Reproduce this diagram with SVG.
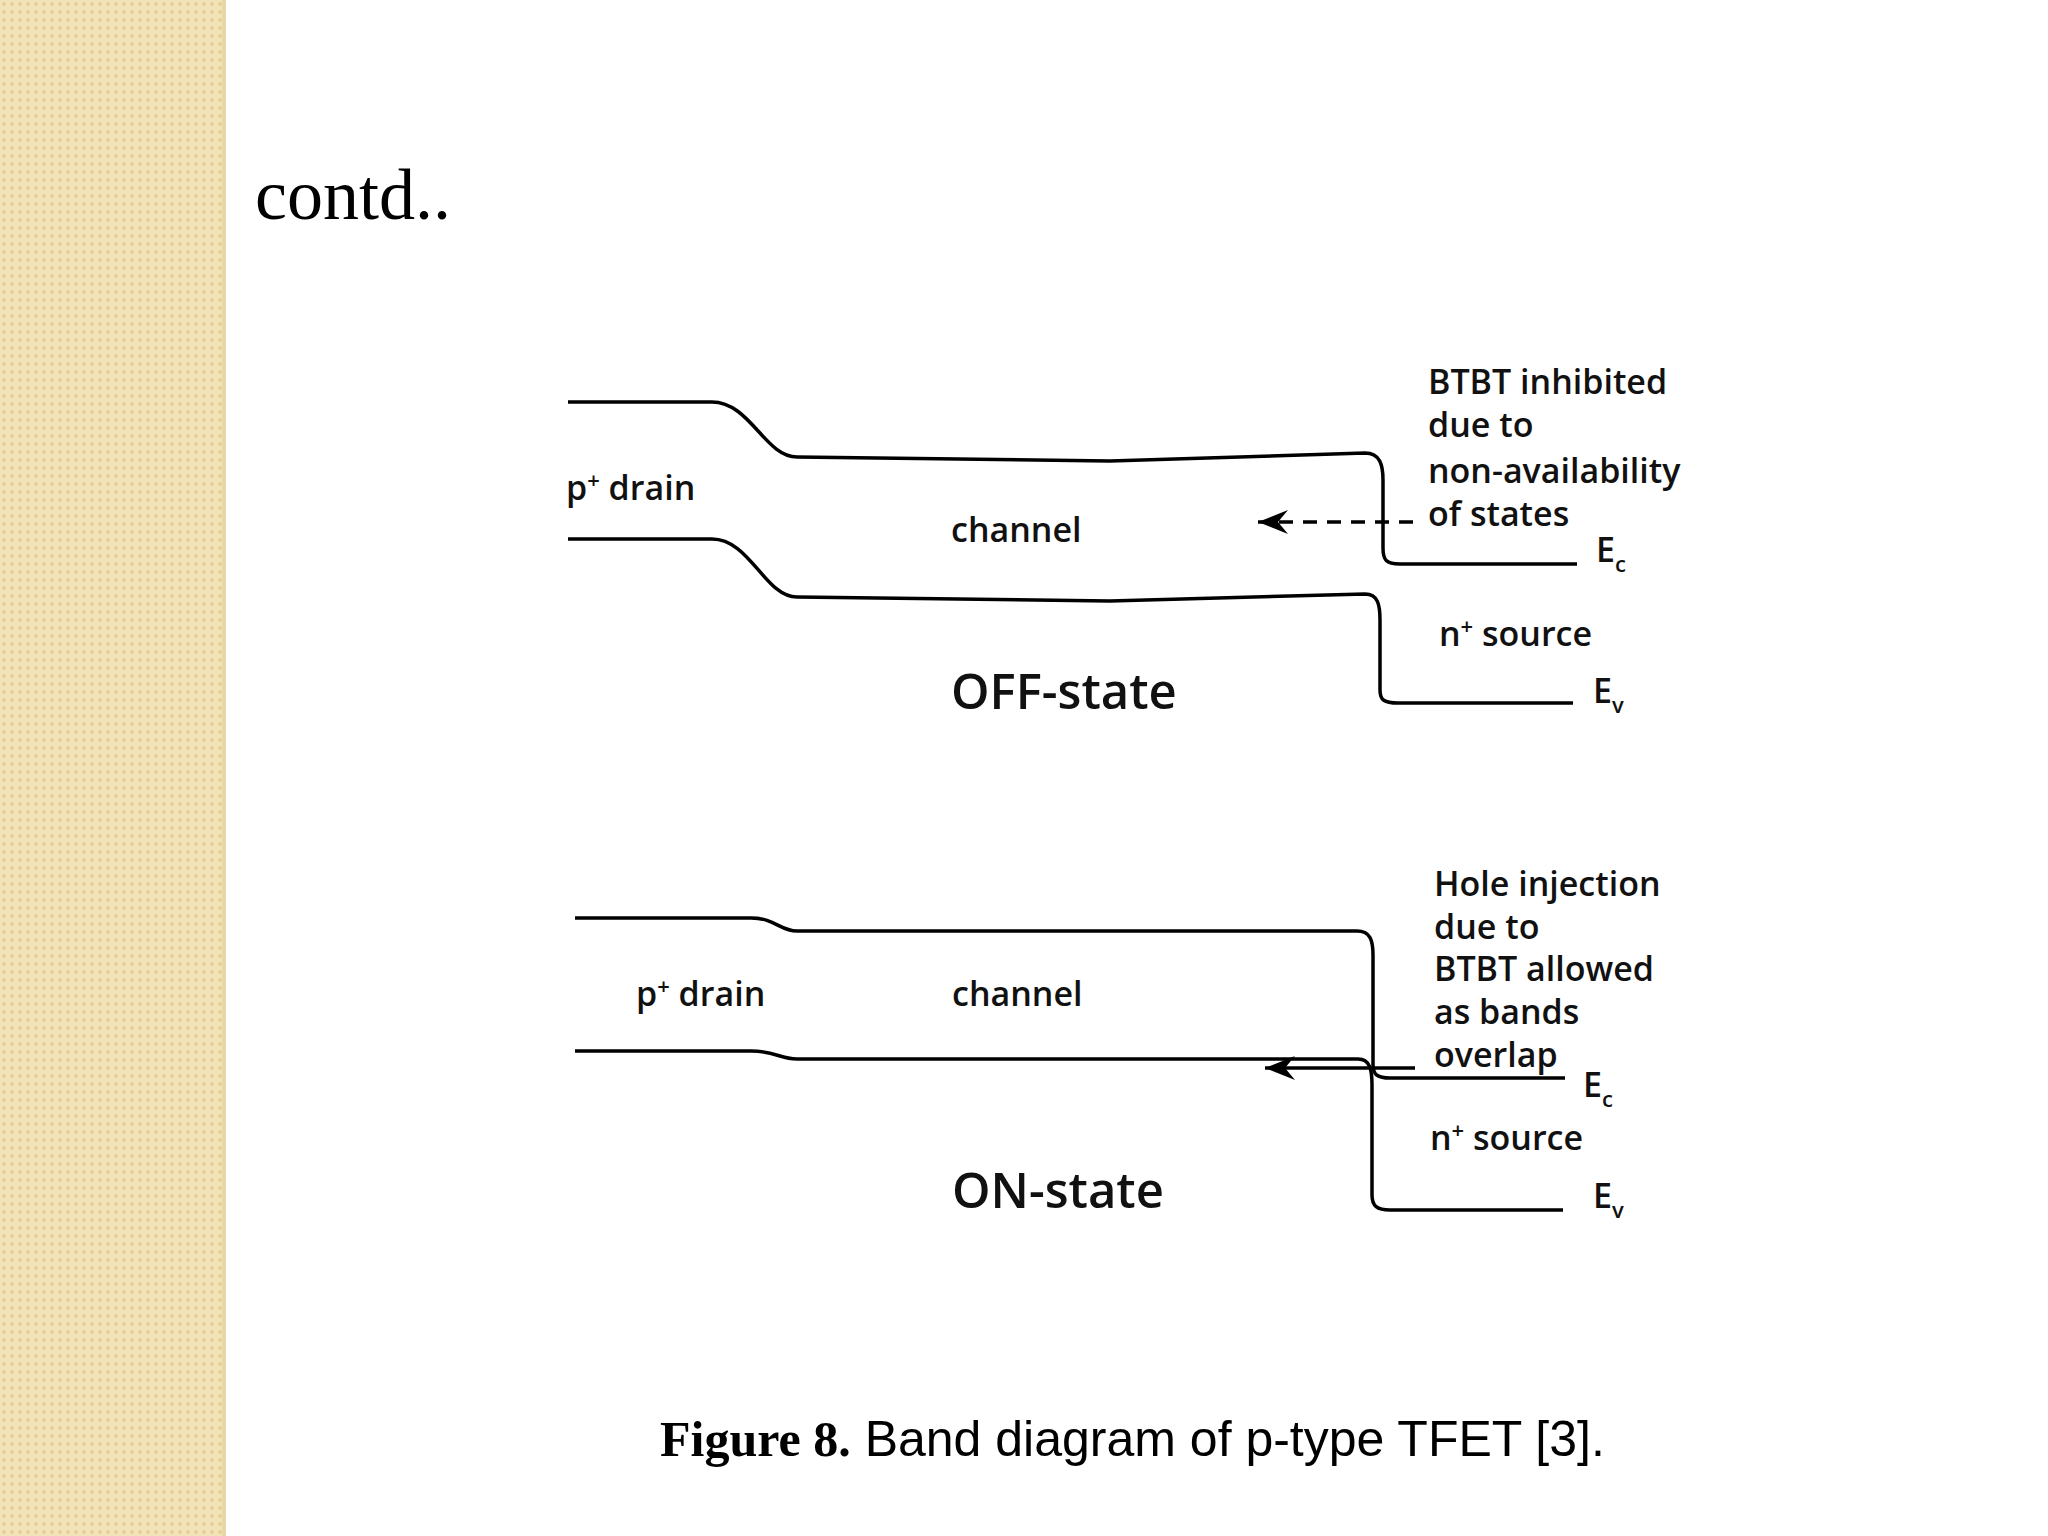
<svg xmlns="http://www.w3.org/2000/svg" width="2048" height="1536" viewBox="0 0 2048 1536">
<defs>
<pattern id="dots" width="8" height="8" patternUnits="userSpaceOnUse">
<rect width="8" height="8" fill="#f3e3b8"/>
<circle cx="4" cy="4" r="2" fill="#e6d09a"/>
</pattern>
<marker id="ah2" viewBox="0 0 30 24" refX="30" refY="12" markerWidth="30" markerHeight="24" markerUnits="userSpaceOnUse" orient="auto">
<path d="M30,12 L0,0 L10,12 L0,24 Z" fill="#000"/>
</marker>
</defs>
<style>
.band{fill:none;stroke:#000;stroke-width:3.5}
.t{font-family:"Open Sans","DejaVu Sans",sans-serif;font-size:34px;font-weight:600;fill:#111}
.big{font-family:"Open Sans","DejaVu Sans",sans-serif;font-size:49px;font-weight:600;fill:#111}
.sub{font-size:22px}
</style>
<rect width="2048" height="1536" fill="#fff"/>
<rect width="226" height="1536" fill="url(#dots)"/>
<rect x="222" width="4" height="1536" fill="#e9d7a6"/>
<text x="255" y="219" font-family="Liberation Serif,serif" font-size="72">contd..</text>

<g id="off-state">
<path class="band" d="M568,402 L712,402 C750,402 765,457 797,457 L1110,461 L1365,453 C1380,453 1383,465 1383,480 L1383,548 C1383,560 1386,564 1400,564 L1577,564"/>
<path class="band" d="M568,539 L712,539 C750,539 765,597 797,597 L1110,601 L1365,594 C1378,594 1380,605 1380,620 L1380,690 C1380,700 1384,703 1398,703 L1573,703"/>
<text class="t" x="566" y="500">p<tspan class="sub" dy="-12">+</tspan><tspan dy="12"> drain</tspan></text>
<text class="t" x="951" y="542">channel</text>
<text class="big" x="951" y="709">OFF-state</text>
<text class="t" x="1428" y="394">BTBT inhibited</text>
<text class="t" x="1428" y="437">due to</text>
<text class="t" x="1428" y="483">non-availability</text>
<text class="t" x="1428" y="526">of states</text>
<text class="t" x="1596" y="562">E<tspan class="sub" dy="10">c</tspan></text>
<text class="t" x="1439" y="646">n<tspan class="sub" dy="-12">+</tspan><tspan dy="12"> source</tspan></text>
<text class="t" x="1593" y="703">E<tspan class="sub" dy="10">v</tspan></text>
</g>

<g id="on-state">
<path class="band" d="M575,918 L751,918 C775,918 780,931 797,931 L1357,931 C1370,931 1373,940 1373,955 L1373,1065 C1373,1075 1378,1078 1390,1078 L1565,1078"/>
<path class="band" d="M575,1051 L751,1051 C775,1051 780,1059 797,1059 L1358,1059 C1370,1059 1372,1070 1372,1085 L1372,1195 C1372,1206 1377,1210 1390,1210 L1563,1210"/>
<text class="t" x="636" y="1006">p<tspan class="sub" dy="-12">+</tspan><tspan dy="12"> drain</tspan></text>
<text class="t" x="952" y="1006">channel</text>
<text class="big" x="952" y="1208">ON-state</text>
<text class="t" x="1434" y="896">Hole injection</text>
<text class="t" x="1434" y="939">due to</text>
<text class="t" x="1434" y="981">BTBT allowed</text>
<text class="t" x="1434" y="1024">as bands</text>
<text class="t" x="1434" y="1067">overlap</text>
<text class="t" x="1583" y="1097">E<tspan class="sub" dy="10">c</tspan></text>
<text class="t" x="1430" y="1150">n<tspan class="sub" dy="-12">+</tspan><tspan dy="12"> source</tspan></text>
<text class="t" x="1593" y="1208">E<tspan class="sub" dy="10">v</tspan></text>
</g>

<g id="connectors">
<line x1="1413" y1="522" x2="1258" y2="522" stroke="#000" stroke-width="3.5" stroke-dasharray="14,10"/>
<path d="M1258,522 L1288,510 L1278,522 L1288,534 Z" fill="#000"/>
<line x1="1415" y1="1068" x2="1265" y2="1068" stroke="#000" stroke-width="3.5" marker-end="url(#ah2)"/>
</g>

<text x="660" y="1456" font-size="50"><tspan font-family="Liberation Serif,serif" font-weight="bold">Figure 8.</tspan><tspan font-family="Liberation Sans,Arial,sans-serif"> Band diagram of p-type TFET [3].</tspan></text>
</svg>
